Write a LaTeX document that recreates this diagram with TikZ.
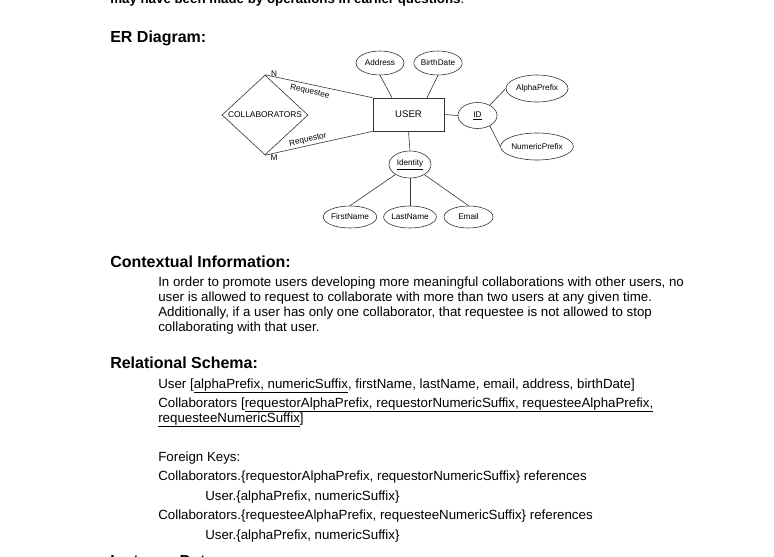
\documentclass[tikz,border=0pt]{standalone}
\usepackage{fontspec}
\setmainfont{Liberation Sans}
\usetikzlibrary{shapes.geometric}

\tikzset{
  attr/.style={ellipse, draw=black!80, inner sep=0pt, minimum width=48pt, minimum height=24pt,
    font=\fontsize{8.2}{9}\selectfont},
  entity/.style={rectangle, draw=black!80, minimum width=71pt, minimum height=33pt,
    font=\fontsize{9.6}{11}\selectfont},
  rel/.style={diamond, draw=black!80, inner sep=0pt, minimum width=86pt, minimum height=76pt,
    font=\fontsize{8.4}{9}\selectfont},
  lbl/.style={inner sep=1pt, font=\fontsize{8.2}{9}\selectfont},
  conn/.style={draw=black!80, line width=0.6pt},
  body/.style={anchor=base west, inner sep=0pt, font=\fontsize{13.3}{15}\selectfont},
  head/.style={anchor=base west, inner sep=0pt, font=\bfseries\fontsize{16}{19}\selectfont},
}

\begin{document}
\begin{tikzpicture}[x=1pt, y=-1pt, line width=0.6pt]

	% page
	\fill[white] (0,0) rectangle (774,557);
	\useasboundingbox (0,0) rectangle (774,557);
	\clip (0,0) rectangle (774,557);

	% text above the diagram
	\node[body, font=\bfseries\fontsize{13.3}{15}\selectfont] (prev) at (110,3.5)
		{may have been made by operations in earlier questions\textmd{.}};
	\node[head] (hER) at (110,42) {ER Diagram:};

	% entity and relation
	\node[entity] (user) at (408.5,114.5) {USER};
	\node[rel] (collab) at (265,115) {COLLABORATORS};

	% attributes of the user
	\node[attr] (address) at (380,63) {Address};
	\node[attr] (birth) at (438,63) {BirthDate};
	\node[attr, minimum width=39pt, minimum height=26pt] (id) at (477.5,115.5) {\underline{ID}};
	\node[attr, minimum width=62pt, minimum height=27pt] (alpha) at (537,88.5) {AlphaPrefix};
	\node[attr, minimum width=62pt, minimum height=27pt] (numeric) at (537,146.5) {NumericPrefix};
	\node[attr, minimum width=42pt, minimum height=27pt] (identity) at (410,164.5) {\underline{Identity}};
	\node[attr, minimum width=46pt, minimum height=22pt] (first) at (350,217) {FirstName};
	\node[attr, minimum width=46pt, minimum height=22pt] (last) at (410,217) {LastName};
	\node[attr, minimum width=49pt, minimum height=22pt] (email) at (468.5,217) {Email};

	% cardinalities
	\node[lbl] (card-n) at (274,74) {N};
	\node[lbl] (card-m) at (274,158) {M};

	% connectors
	\draw[conn] (collab.north) -- (user.north west)
		node[lbl, pos=0.43, sloped, below=2.5pt] {Requestee};
	\draw[conn] (collab.south) -- (user.south west)
		node[lbl, pos=0.41, sloped, above=0.5pt] {Requestor};
	\draw[conn] (address.south) -- ([xshift=-16.5pt]user.north);
	\draw[conn] (birth.south) -- ([xshift=18.5pt]user.north);
	\draw[conn] (user.east) -- (id.west);
	\draw[conn] (id.40) -- (alpha.west);
	\draw[conn] (id.-40) -- (numeric.west);
	\draw[conn] (user.south) -- (identity.north);
	\draw[conn] (identity) -- (first.north);
	\draw[conn] (identity.south) -- (last.north);
	\draw[conn] (identity) -- (email.north);

	% contextual information
	\node[head] (hCtx) at (110,267) {Contextual Information:};
	\node[body] (ctx1) at (158,286) {In order to promote users developing more meaningful collaborations with other users, no};
	\node[body] (ctx2) at (158,301) {user is allowed to request to collaborate with more than two users at any given time.};
	\node[body] (ctx3) at (158,316) {Additionally, if a user has only one collaborator, that requestee is not allowed to stop};
	\node[body] (ctx4) at (158,331) {collaborating with that user.};

	% relational schema
	\node[head] (hRel) at (110,368) {Relational Schema:};
	\node[body] (sUser) at (158,388) {User [\underline{alphaPrefix, numericSuffix}, firstName, lastName, email, address, birthDate]};
	\node[body] (sCol1) at (158,407) {Collaborators [\underline{requestorAlphaPrefix, requestorNumericSuffix, requesteeAlphaPrefix,}};
	\node[body] (sCol2) at (158,422) {\underline{requesteeNumericSuffix}]};

	% foreign keys
	\node[body] (fk) at (158,461) {Foreign Keys:};
	\node[body] (fk1) at (158,480) {Collaborators.\{requestorAlphaPrefix, requestorNumericSuffix\} references};
	\node[body] (fk1r) at (205,500) {User.\{alphaPrefix, numericSuffix\}};
	\node[body] (fk2) at (158,519) {Collaborators.\{requesteeAlphaPrefix, requesteeNumericSuffix\} references};
	\node[body] (fk2r) at (205,539) {User.\{alphaPrefix, numericSuffix\}};

	% next section, cut off
	\node[head] (hInst) at (110,566) {Instance Data:};

\end{tikzpicture}
\end{document}
